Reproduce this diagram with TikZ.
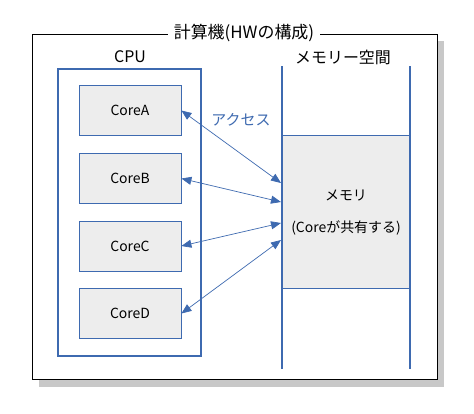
\documentclass[tikz,border=0pt]{standalone}
\usepackage{fontspec}
\setmainfont{Noto Sans CJK JP}
\usepackage{xcolor}
\usepackage{tikz}
\usetikzlibrary{arrows.meta}
\definecolor{lineblue}{RGB}{62,106,176}
\definecolor{boxgray}{RGB}{237,237,237}
\definecolor{shadowgray}{RGB}{200,200,200}

\begin{document}
\begin{tikzpicture}[x=1bp, y=-1bp,
  corebox/.style={draw=lineblue, line width=0.8pt, fill=boxgray, minimum width=102bp, minimum height=50bp, font=\fontsize{14}{16}\selectfont},
  access/.style={lineblue, line width=0.7pt, {Triangle[length=10bp,width=8bp]}-{Triangle[length=10bp,width=8bp]}},
  bigline/.style={lineblue, line width=2.8pt}]
\useasboundingbox (0,0) rectangle (474,413);
%%%%% Frame %%%%%
\fill[shadowgray] (39,41) rectangle (444,387);
\draw[fill=white, line width=0.9pt] (32,34) rectangle (437,379);
\node[fill=white, inner xsep=6bp, font=\fontsize{17}{19}\selectfont] (title) at (244,33) {計算機(HWの構成)};
%%%%% CPU %%%%%
\node[font=\fontsize{16}{18}\selectfont] (cpulabel) at (130,57) {CPU};
\draw[bigline] (58,69) rectangle (201,356);
\node[corebox] (coreA) at (130,110.5) {CoreA};
\node[corebox] (coreB) at (130,178.5) {CoreB};
\node[corebox] (coreC) at (130,246) {CoreC};
\node[corebox] (coreD) at (130,313.5) {CoreD};
%%%%% Memory %%%%%
\node[font=\fontsize{16}{18}\selectfont] (memlabel) at (343,57) {メモリー空間};
\node[fill=boxgray, minimum width=128bp, minimum height=152bp, inner sep=0pt] (mem) at (346,212) {};
\draw[lineblue, line width=0.9pt] (mem.north west) -- (mem.north east);
\draw[lineblue, line width=0.9pt] (mem.south west) -- (mem.south east);
\node[font=\fontsize{14}{16}\selectfont] (memtext) at (346,195) {メモリ};
\node[font=\fontsize{14}{16}\selectfont] (memnote) at (346,228) {(Coreが共有する)};
\draw[bigline] (282,66) -- (282,369);
\draw[bigline] (410,66) -- (410,369);
%%%%% Access %%%%%
\coordinate (mA) at (281,183);
\coordinate (mB) at (281,202);
\coordinate (mC) at (281,223);
\coordinate (mD) at (281,240);
\node[lineblue, font=\fontsize{15}{17}\selectfont] (acclabel) at (241,120) {アクセス};
\draw[access] (coreA.east) -- (mA);
\draw[access] (coreB.east) -- (mB);
\draw[access] (coreC.east) -- (mC);
\draw[access] (coreD.east) -- (mD);
\end{tikzpicture}
\end{document}
